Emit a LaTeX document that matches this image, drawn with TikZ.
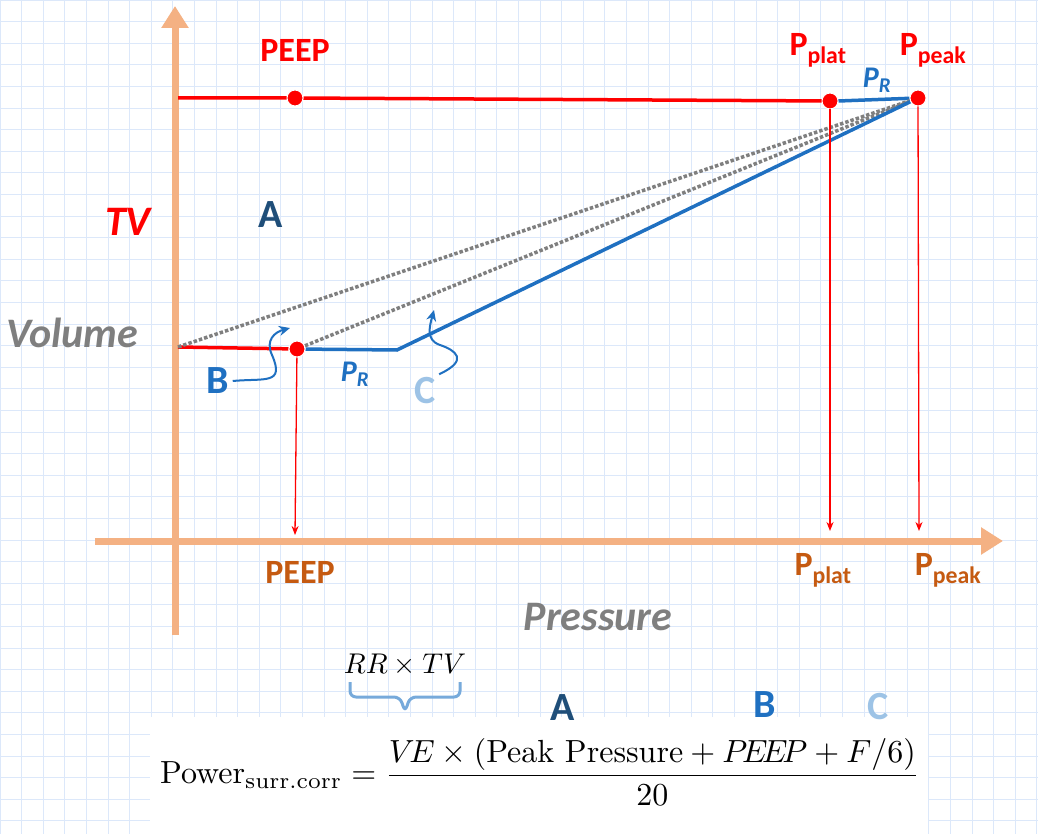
\documentclass[tikz,border=0pt]{standalone}
\usepackage{fontspec}
\usepackage{amsmath}
\usepackage{graphicx}
\newfontfamily\carl{Carlito}
\usetikzlibrary{arrows.meta}
\definecolor{axc}{HTML}{F4B183}
\definecolor{gridc}{HTML}{DCE8FA}
\definecolor{rd}{HTML}{FF0000}
\definecolor{bl}{HTML}{1F70C1}
\definecolor{dbl}{HTML}{1F4E79}
\definecolor{lbl}{HTML}{9DC3E6}
\definecolor{org}{HTML}{C55A11}
\definecolor{gr}{HTML}{7F7F7F}
\tikzset{
 lab/.style={font=\carl\bfseries\fontsize{34}{38}\selectfont},
 big/.style={font=\carl\bfseries\fontsize{40}{44}\selectfont},
 bigit/.style={font=\carl\bfseries\itshape\fontsize{42}{46}\selectfont},
 prl/.style={font=\carl\bfseries\itshape\fontsize{30}{34}\selectfont},
 axis/.style={axc,line width=7pt,-{Triangle[length=22pt,width=26pt]}},
 dot/.style={circle,fill=rd,draw=white,line width=1pt,inner sep=0pt,minimum size=16pt},
 rline/.style={rd,line width=3.5pt},
 bline/.style={bl,line width=3.5pt},
 dline/.style={gr,line width=3.5pt,dotted},
 darr/.style={rd,line width=1.3pt,-{Stealth[length=9pt,width=7pt]}},
 curl/.style={bl,line width=2pt,-{Stealth[length=11pt,width=10pt]}}
}
\begin{document}
\begin{tikzpicture}[x=1pt,y=-1pt]
\useasboundingbox (0,0) rectangle (1038,834);
\fill[white] (0,0) rectangle (1038,834);
\foreach \i in {0,...,48} {\draw[gridc,line width=0.8pt] ({\i*21.6},0) -- ({\i*21.6},834);}
\foreach \j in {0,...,39} {\draw[gridc,line width=0.8pt] (0,{\j*21.6}) -- (1038,{\j*21.6});}
% axes
\coordinate (vb) at (175,635); \coordinate (vt) at (175,6);
\coordinate (hl) at (95,541); \coordinate (hr) at (1003,541);
\draw[axis] (vb) -- (vt);
\draw[axis] (hl) -- (hr);
% points
\coordinate (t0) at (178,98);
\coordinate (l0) at (178,347);
\coordinate (k) at (397,350);
\node[dot] (pe) at (295,98) {};
\node[dot] (pp) at (830,101) {};
\node[dot] (pk) at (918,98) {};
\node[dot] (b) at (297,349) {};
\draw[rline] (t0) -- (pe) -- (pp);
\draw[bline] (pp.east) -- (pk);
\draw[rline] (l0) -- (b);
\draw[dline] (l0) -- (pk);
\draw[dline] (b) -- (pk);
\draw[bline] (b) -- (k) -- (pk);
\node[dot] at (297,349) {};
\node[dot] at (918,98) {};
% drop arrows
\coordinate (a1) at (295,535); \coordinate (a2) at (830,531); \coordinate (a3) at (919,531);
\draw[darr] (b) -- (a1);
\draw[darr] (pp) -- (a2);
\draw[darr] (pk) -- (a3);
% top labels
\node[lab,rd] (tpeep) at (295,50) {PEEP};
\node[lab,rd] (tplat) at (818,50) {P\textsubscript{plat}};
\node[lab,rd] (tpeak) at (933,50) {P\textsubscript{peak}};
\node[prl,bl] (pr1) at (877,80) {P\textsubscript{\itshape R}};
\node[bigit,rd] (tv) at (128,222) {TV};
\node[big,dbl] (A) at (271,215) {A};
\node[bigit,gr] (vol) at (72,333) {Volume};
\node[big,bl] (B) at (218,381) {B};
\node[prl,bl] (pr2) at (355,374) {P\textsubscript{\itshape R}};
\node[big,lbl] (C) at (425,391) {C};
% curly arrows
\draw[curl] (B.east) .. controls (265,378) and (285,385) .. (272,355) .. controls (265,340) and (275,332) .. (290,328);
\draw[curl] (C.north east) .. controls (470,360) and (455,350) .. (440,345) .. controls (425,340) and (430,325) .. (434,310);
% bottom labels
\node[lab,org] (bpeep) at (300,572) {PEEP};
\node[lab,org] (bplat) at (823,570) {P\textsubscript{plat}};
\node[lab,org] (bpeak) at (948,570) {P\textsubscript{peak}};
\node[bigit,gr] (press) at (598,617) {Pressure};
% formula
\fill[white] (150,717) rectangle (928,834);
\node[anchor=west,inner sep=0pt] (f) at (160,772)
 {\scalebox{3.2}{$\text{Power}_{\text{surr.corr}} = \dfrac{V\!E \times (\text{Peak Pressure} + P\!E\!E\!P + F/6)}{20}$}};
\node (rr) at (405,665) {\scalebox{2.85}{$RR \times TV$}};
\draw[lbl!70!bl,line width=3pt,rounded corners=6pt] (350,682) -- (350,697) -- (400,697) -- (405,712) -- (410,697) -- (460,697) -- (460,682);
\node[big,dbl] at (563,708) {A};
\node[big,bl] at (765,705) {B};
\node[big,lbl] at (878,707) {C};
\end{tikzpicture}
\end{document}
